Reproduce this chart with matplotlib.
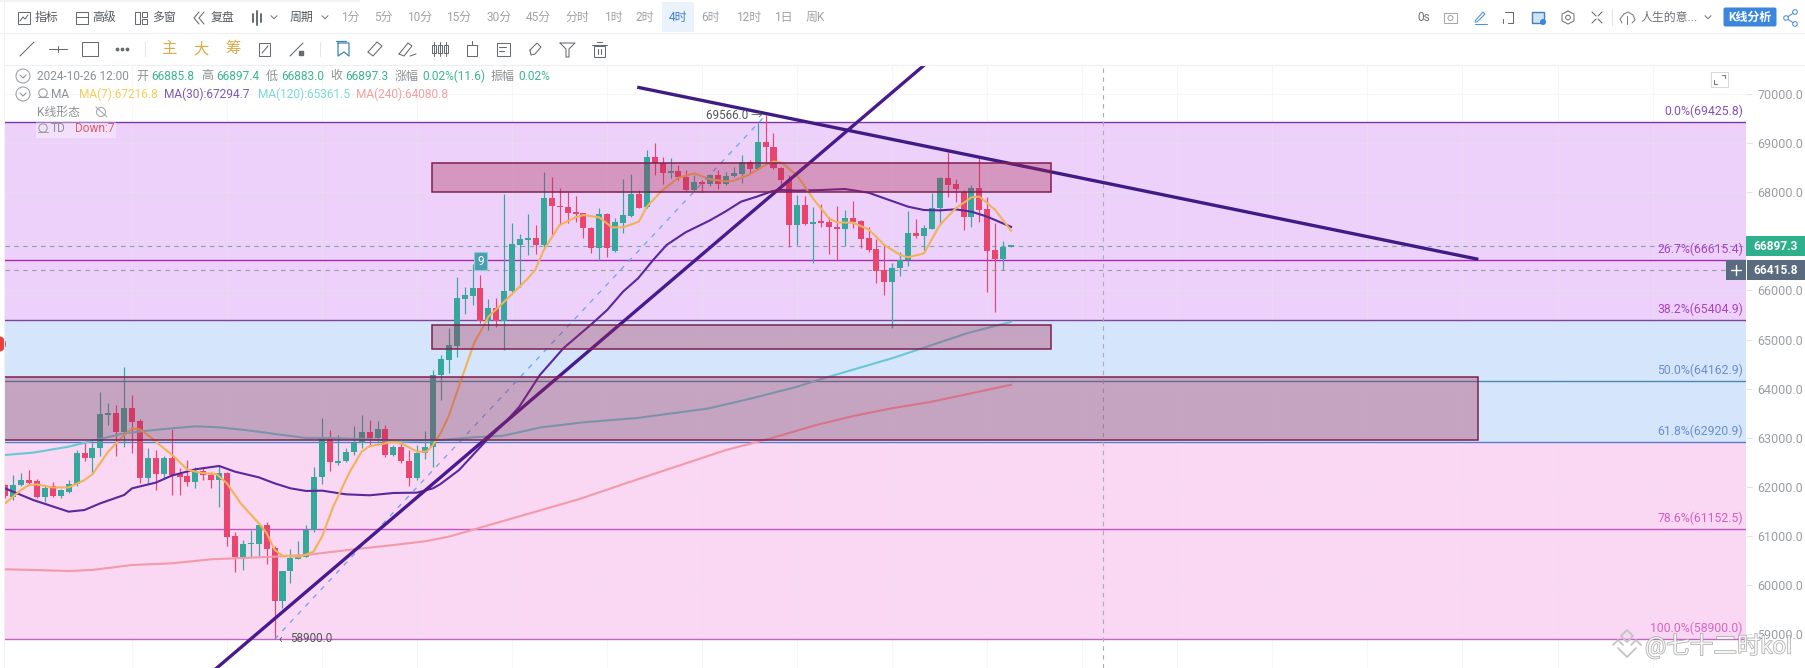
import matplotlib
matplotlib.use("Agg")
import matplotlib.pyplot as plt
import matplotlib.patheffects as pe
from matplotlib.patches import Rectangle, Circle, FancyBboxPatch

#---------------------------------
# Data
#---------------------------------

opens = [62030, 61800, 62030, 62140, 62120, 61800, 62010, 61820, 61900, 62060, 62690, 62580, 62790, 63470, 63500, 63110,
         63600, 63340, 62180, 62580, 62260, 62580, 62260, 62220, 62110, 62330, 62240, 62140, 62280, 61000, 60580, 60830,
         60840, 61230, 60750, 59670, 60280, 60540, 60580, 61120, 62200, 63020, 62490, 62520, 62720, 62890, 63110, 62990,
         63170, 62650, 62820, 62520, 62180, 62700, 62820, 64280, 64590, 64870, 65830, 65890, 66060, 65370, 65640, 65370,
         65980, 66930, 67030, 67060, 66930, 67880, 67710, 67690, 67590, 67570, 67280, 66860, 67550, 66810, 67380, 67520,
         67960, 67690, 68710, 68590, 68400, 68430, 68320, 68050, 68210, 68160, 68360, 68160, 68340, 68380, 68610, 68480,
         69020, 68930, 68490, 68240, 67340, 67750, 67360, 67410, 67390, 67290, 67260, 67470, 67410, 67060, 66840, 66410,
         66180, 66450, 66630, 67180, 67100, 67260, 67670, 68280, 68160, 68010, 67500, 68080, 67650, 66820, 66640, 66885.8]
closes = [61820, 62040, 62140, 62090, 61800, 61970, 61820, 61930, 62050, 62690, 62580, 62790, 63490, 63500, 63110, 63600,
          63330, 62180, 62580, 62260, 62580, 62240, 62210, 62110, 62330, 62240, 62140, 62280, 60990, 60580, 60840, 60850,
          61220, 60740, 59670, 60290, 60550, 60580, 61120, 62200, 63020, 62500, 62520, 62720, 62900, 63110, 62990, 63170,
          62650, 62810, 62520, 62180, 62690, 62820, 64280, 64600, 64890, 65840, 65910, 66060, 65370, 65640, 65370, 65980,
          66940, 67040, 67060, 66930, 67880, 67710, 67690, 67580, 67560, 67280, 66860, 67550, 66860, 67390, 67530, 67960,
          67680, 68720, 68590, 68400, 68430, 68320, 68050, 68210, 68170, 68360, 68160, 68340, 68390, 68610, 68470, 69020,
          68930, 68490, 68240, 67330, 67750, 67350, 67390, 67370, 67290, 67260, 67470, 67400, 67050, 66830, 66400, 66180,
          66450, 66630, 67180, 67100, 67270, 67670, 68280, 68150, 68070, 67500, 68080, 67640, 66810, 66650, 66890, 66897.3]
highs = [62070, 62240, 62290, 62350, 62160, 62020, 62110, 61950, 62140, 62750, 62920, 62890, 63940, 63700, 63670, 64450,
         63870, 63380, 62790, 62750, 62620, 63170, 62380, 62540, 62410, 62410, 62310, 62450, 62310, 61090, 60920, 61120,
         61270, 61290, 60790, 60290, 60730, 60890, 61230, 62410, 63400, 63150, 63060, 62790, 63240, 63470, 63360, 63340,
         63260, 62850, 62900, 62750, 62850, 63130, 64380, 64690, 65230, 66280, 66080, 66540, 66320, 65820, 65840, 67960,
         67370, 67150, 67560, 67330, 68410, 68300, 68080, 68010, 67920, 67580, 67300, 67670, 67570, 67470, 68260, 68370,
         68050, 68870, 69010, 68720, 68690, 68550, 68450, 68350, 68240, 68380, 68450, 68420, 68520, 68760, 68660, 69400,
         69566, 69200, 68520, 68350, 67940, 67920, 67690, 67770, 67500, 67720, 67640, 67830, 67440, 67290, 67040, 66930,
         66550, 66790, 67620, 67460, 67330, 67980, 68300, 68810, 68260, 68050, 68150, 68740, 67900, 67370, 67010, 66897.4]
lows = [61770, 61740, 62010, 62040, 61770, 61700, 61800, 61770, 61880, 62010, 62520, 62280, 62620, 63260, 62620, 62810,
        62700, 62090, 62070, 61940, 62180, 61840, 61840, 62010, 61970, 62140, 61970, 61600, 60800, 60260, 60310, 60580,
        60600, 60430, 58900, 59530, 60050, 60530, 60580, 61090, 62070, 62330, 62450, 62500, 62650, 62790, 62850, 62890,
        62600, 62620, 62480, 62020, 62140, 62570, 62410, 63760, 64310, 64640, 65520, 65700, 65330, 65200, 65260, 64790,
        65940, 66080, 66720, 66740, 66890, 67100, 67330, 67370, 67400, 67060, 66770, 66620, 66690, 66790, 67180, 67500,
        67670, 67670, 68350, 68170, 68280, 68250, 68030, 68030, 68010, 68130, 68070, 68140, 68320, 68180, 68380, 68470,
        68590, 68470, 68150, 66890, 66930, 67330, 66550, 67290, 66740, 66620, 66910, 67270, 66870, 66790, 66160, 65910,
        65230, 66300, 66490, 67060, 66770, 67250, 67330, 67900, 67810, 67230, 67300, 67400, 65960, 65570, 66420, 66883.0]

ma7_idx = [0, 2, 3, 4, 6, 8, 10, 11, 13, 15, 16, 17, 18, 20, 21.3, 23, 24.6, 26.7, 28, 29.7, 32, 33, 34, 35, 37.2, 38.9,
           40, 41.4, 43.5, 45, 46, 47.8, 49, 50, 52, 53.2, 54, 55, 56, 57.7, 59.2, 60.6, 61, 63, 65.8, 66.9, 68, 70, 72,
           73, 75, 76.6, 78, 80, 81, 83, 85, 87, 89, 91, 92, 94, 96, 97, 98, 100, 102, 104, 105, 107, 109, 111, 113, 114,
           116, 118, 120, 122, 123, 125, 127]
ma7_val = [61670, 61940, 62040, 62050, 61990, 61990, 62140, 62260, 62720, 63060, 63190, 63170, 63060, 62790, 62620, 62350,
           62290, 62260, 62070, 61670, 61260, 61060, 60720, 60600, 60580, 60680, 60990, 61600, 62310, 62720, 62830, 62880,
           62920, 62890, 62720, 62720, 62850, 63105, 63450, 64245, 64930, 65338, 65467, 65772, 66213, 66417, 66824, 67333,
           67489, 67536, 67489, 67285, 67285, 67401, 67706, 68045, 68296, 68385, 68263, 68222, 68235, 68364, 68554, 68622,
           68609, 68337, 67870, 67469, 67387, 67380, 67245, 66926, 66722, 66675, 66756, 67333, 67672, 67896, 67910, 67638,
           67217]

ma30_idx = [0, 3.5, 8, 10, 12, 15, 16, 19, 21, 24, 27, 29, 32, 34, 36, 38, 40, 43, 46, 49, 52, 54, 54.9, 57.3, 60.6, 63.2,
            64.9, 67.5, 70.5, 73.9, 76, 78, 79.9, 81.8, 83.5, 85.9, 88.9, 90.9, 92.9, 94.9, 96.9, 98, 100, 103, 106, 109,
            111, 114, 116, 118, 120, 122, 124, 127]
ma30_val = [61970, 61735, 61497, 61531, 61667, 61836, 61972, 62088, 62230, 62359, 62427, 62311, 62196, 62074, 61972, 61918,
            61925, 61850, 61830, 61877, 61884, 61972, 62054, 62345, 62921, 63329, 63634, 64279, 64829, 65297, 65603, 65976,
            66247, 66620, 66926, 67184, 67421, 67604, 67808, 67910, 68025, 68045, 68032, 68045, 68066, 67991, 67876, 67706,
            67638, 67631, 67652, 67604, 67502, 67294.7]

ma120_idx = [0, 3.5, 8, 12, 15, 18, 21, 24, 27, 31, 35, 38, 41, 46, 50, 54.9, 59.7, 62.7, 67.7, 73, 79.8, 88.6, 93.8, 100,
             102.9, 112.2, 121.4, 127]
ma120_val = [62651, 62698, 62820, 62977, 63092, 63146, 63194, 63234, 63214, 63146, 63058, 62997, 62997, 62970, 62922, 62956,
             63017, 63037, 63215, 63316, 63404, 63593, 63785, 64041, 64192, 64631, 65128, 65361.5]

ma240_idx = [0, 3.5, 8, 11, 16, 21, 26, 34, 38, 44, 49, 53, 56, 72.4, 79.6, 85.3, 91, 96.7, 102.4, 107.1, 111.9, 116.6,
             121.4, 127]
ma240_val = [60323, 60310, 60289, 60310, 60411, 60445, 60527, 60581, 60615, 60730, 60818, 60893, 60988, 61749, 62142, 62447,
             62752, 62991, 63261, 63445, 63601, 63724, 63886, 64080.8]

fib_pcts = ["0.0%", "26.7%", "38.2%", "50.0%", "61.8%", "78.6%", "100.0%"]
fib_prices = [69425.8, 66615.4, 65404.9, 64162.9, 62920.9, 61152.5, 58900.0]
fib_line_colors = ["#7B35A5", "#A52BB5", "#85409F", "#4A88B0", "#5A7CCB", "#BF55C0", "#C462C4"]
fib_text_colors = ["#8A4FB5", "#A845BE", "#A845BE", "#6A8FCB", "#6A8FCB", "#D060BE", "#D868C0"]

# rectangles the user drew: left bar, right bar, top price, bottom price
zone_left = [53.9, 53.9, -1]
zone_right = [132.0, 132.0, 185.9]
zone_top = [68589, 65291, 64233]
zone_bottom = [67999, 64815, 62950]

trend_a_idx = [26.7, 115.9]
trend_a_val = [58314, 70570]
trend_b_idx = [80, 185.8]
trend_b_val = [70132, 66641]
fib_link_idx = [34, 96]
fib_link_val = [58900, 69566]

price_ticks = [70000, 69000, 68000, 67000, 66000, 65000, 64000, 63000, 62000, 61000, 60000, 59000]
grid_idx = [16, 28, 40, 52, 64, 76, 88, 100, 112, 124, 136, 148, 160, 172, 184, 196, 208]
last_price = 66897.3
cross_price = 66415.8
cross_idx = 138.6

period_labels = ["1分", "5分", "10分", "15分", "30分", "45分", "分时", "1时", "2时", "4时", "6时", "12时", "1日", "周K"]
period_x = [350, 383, 420, 459, 499, 538, 577, 613, 645, 678, 711, 749, 783, 815]

#---------------------------------
# Figure setup
#---------------------------------

plt.rcParams["font.family"] = ["Roboto", "Noto Sans CJK SC", "DejaVu Sans"]

W, H = 1806, 668
UP = "#36A89B"
DOWN = "#E8456F"
GRAY = "#8C9196"
ICON = "#666B70"

fig = plt.figure(figsize=(W / 100, H / 100), dpi=100, facecolor="white")
ax = fig.add_axes([5 / W, 0, (1746 - 5) / W, (668 - 66) / H])
ax.set_xlim(-0.04, 219.8)
ax.set_ylim(58314, 70570)
for s in ax.spines.values():
    s.set_visible(False)

# the 67000 label sits under the last price tag, so it stays blank
ax.set_yticks(price_ticks)
ax.set_yticklabels(["" if p == 67000 else f"{p:.1f}" for p in price_ticks], color="#9A9EA3", fontsize=9)
ax.yaxis.tick_right()
ax.tick_params(axis="y", length=4, color="#E4E4E4", pad=4, width=0.8)
ax.set_xticks(grid_idx)
ax.set_xticklabels([])
ax.tick_params(axis="x", length=0)
ax.grid(True, color="#E6E6EE", alpha=0.35, lw=0.8)
ax.set_axisbelow(True)

#---------------------------------
# Fibonacci bands
#---------------------------------

ax.axhspan(fib_prices[2], fib_prices[0], color="#EDD1FA", lw=0, zorder=0.3)
ax.axhspan(fib_prices[4], fib_prices[2], color="#D5E5FC", lw=0, zorder=0.3)
ax.axhspan(fib_prices[6], fib_prices[4], color="#FAD7F3", lw=0, zorder=0.3)

for pct, price, lc, tc in zip(fib_pcts, fib_prices, fib_line_colors, fib_text_colors):
    ax.axhline(price, color=lc, lw=1.0, zorder=1)
    ax.annotate(f"{pct}({price:.1f})", (219.8, price), xytext=(-3, 4), textcoords="offset pixels",
                ha="right", va="bottom", color=tc, fontsize=8.8, zorder=6)

#---------------------------------
# Candles and moving averages
#---------------------------------

idx = list(range(len(opens)))
colors = [UP if c >= o else DOWN for o, c in zip(opens, closes)]
ax.vlines(idx, lows, highs, colors=colors, lw=0.85, zorder=2)
ax.bar(idx, [max(abs(c - o), 30) for o, c in zip(opens, closes)],
       bottom=[min(o, c) for o, c in zip(opens, closes)], width=0.76, color=colors, zorder=2)

ax.plot(ma240_idx, ma240_val, color="#F29AA8", lw=1.5, zorder=3)
ax.plot(ma120_idx, ma120_val, color="#68C8D6", lw=1.5, zorder=3)
ax.plot(ma30_idx, ma30_val, color="#5A279C", lw=1.5, zorder=3)
ax.plot(ma7_idx, ma7_val, color="#F0B35A", lw=1.5, zorder=3)

# current price and crosshair
ax.axhline(last_price, color="#7FA6A8", lw=0.8, dashes=(4, 4), zorder=1.5)
ax.axhline(cross_price, color="#9A9AA8", lw=0.8, dashes=(4, 4), zorder=1.5)
ax.axvline(cross_idx, color="#ABABB6", lw=0.8, dashes=(4, 4), zorder=1.5)

# drawn objects
ax.plot(fib_link_idx, fib_link_val, color="#6AA5E8", lw=0.9, dashes=(4, 5), zorder=3)
ax.plot(trend_a_idx, trend_a_val, color="#481A8E", lw=2.4, zorder=4)
ax.plot(trend_b_idx, trend_b_val, color="#3F1B85", lw=2.4, zorder=4)

for l, r, t, b in zip(zone_left, zone_right, zone_top, zone_bottom):
    ax.add_patch(Rectangle((l, b), r - l, t - b, facecolor=(0.66, 0.16, 0.32, 0.34),
                           edgecolor="#7E1F4F", lw=1.1, zorder=5))

ax.text(95.6, 69566, "69566.0 →", ha="right", va="center", color="#555555", fontsize=8.4, zorder=6)
ax.text(34.5, 58900, "‹", ha="left", va="center", color="#555555", fontsize=8.4, zorder=6)
ax.text(36, 58920, "58900.0", ha="left", va="center", color="#555555", fontsize=8.4, zorder=6)
ax.text(60, 66600, "9", ha="center", va="center", color="white", fontsize=8.5, zorder=6,
        bbox=dict(boxstyle="square,pad=0.25", fc="#4A9FB0", ec="#8FC9D2", lw=0.8))

#---------------------------------
# Toolbar and legend overlay, drawn in pixels
#---------------------------------

ui = fig.add_axes([0, 0, 1, 1], facecolor="none", zorder=5)
ui.set_xlim(0, W)
ui.set_ylim(H, 0)
ui.axis("off")


def label(x, y, s, color=GRAY, ha="left", size=8.6, **kw):
    ui.text(x, y, s, color=color, ha=ha, va="center", fontsize=size, **kw)


def line(xs, ys, color=ICON, lw=0.75):
    ui.plot(xs, ys, color=color, lw=lw, solid_capstyle="round")


def box(x0, y0, x1, y1, color=ICON, lw=0.75, fc="none"):
    ui.add_patch(Rectangle((x0, y0), x1 - x0, y1 - y0, ec=color, fc=fc, lw=lw))


def chevron(x, y, color="#777777"):
    line([x - 3, x, x + 3], [y - 2, y + 1, y - 2], color)


line([0, W], [32.7, 32.7], "#EFEFEF", 0.8)
line([5, W], [65, 65], "#EFEFEF", 0.8)
line([4.5, 4.5], [0, H], "#F0F0F0", 0.8)
ui.add_patch(Rectangle((0, 0), 360, 2, fc="#F3F3F3", ec="none"))

# first row
R1 = 17.7
box(18, 12, 30, 24)
line([20, 23, 25, 28], [21, 17, 19, 15])
label(35, R1, "指标", "#555B61")
box(76, 12, 88, 24)
line([76, 88], [17, 17])
label(92, R1, "高级", "#555B61")
box(135, 12, 140, 24)
box(142, 12, 147, 17)
box(142, 19, 147, 24)
label(152, R1, "多窗", "#555B61")
line([199, 194, 199], [12, 18, 24])
line([204, 199, 204], [12, 18, 24])
label(211, R1, "复盘", "#555B61")
for cx, top, bot in [(253, 14, 22), (257, 11, 25), (261, 14, 22)]:
    line([cx, cx], [top, bot], ICON, 1.4)
chevron(274, R1)
label(290, R1, "周期", "#555B61")
chevron(325, R1)
ui.add_patch(Rectangle((662, 2), 32, 30, fc="#EAF2FB", ec="none"))
for s, x in zip(period_labels, period_x):
    label(x, R1, s, "#3F7FD0" if s == "4时" else "#9EA3A8", ha="center")

label(1417, R1, "0s", "#6E7378")
box(1444, 13, 1457, 23, "#A5A9AD")
ui.add_patch(Circle((1450.5, 18), 2.5, ec="#A5A9AD", fc="none", lw=0.75))
line([1475, 1483, 1485, 1477, 1475], [21, 12, 14, 22, 22], "#4A8FD8")
line([1475, 1487], [24, 24], "#4A8FD8")
line([1505, 1513, 1513, 1508], [12, 12, 23, 23])
line([1503, 1503], [19, 23])
box(1532, 12, 1544, 23, "#3E7FC8", 1.0, "#CFE2F7")
ui.add_patch(Circle((1543, 22), 3, ec="none", fc="#3C87DE"))
line([1568, 1574, 1574, 1568, 1562, 1562, 1568], [11, 14, 21, 24, 21, 14, 11], "#777777")
ui.add_patch(Circle((1568, 17.5), 2.3, ec="#777777", fc="none", lw=0.75))
line([1592, 1596], [12, 16], "#666666")
line([1598, 1602], [16, 12], "#666666")
line([1592, 1596], [23, 19], "#666666")
line([1598, 1602], [19, 23], "#666666")
line([1612, 1612], [9, 25], "#E2E2E2")
line([1622, 1620, 1624, 1628, 1633, 1635, 1632], [23, 19, 14, 12, 15, 20, 23], "#7A7F84")
line([1627, 1627], [24, 16], "#7A7F84")
label(1640, R1, "人生的意...", "#6E7378")
chevron(1708, R1)
ui.add_patch(FancyBboxPatch((1724, 8), 52, 18, boxstyle="round,pad=0.5,rounding_size=2", fc="#3C87DE", ec="none"))
label(1750, R1, "K线分析", "white", ha="center", fontweight="bold")
line([1786, 1795], [18, 12], "#4A8FD8")
line([1786, 1795], [18, 24], "#4A8FD8")
for sx, sy in [(1786, 18), (1795, 12), (1795, 24)]:
    ui.add_patch(Circle((sx, sy), 2.3, ec="#4A8FD8", fc="white", lw=0.75, zorder=3))

# second row
R2 = 49
line([20, 34], [56, 42])
line([49, 67], [49, 49])
line([58, 58], [46, 52])
box(82, 42, 98, 56)
ui.scatter([117, 122, 127], [49, 49, 49], s=3, color=ICON)
line([145, 145], [42, 56], "#E6E6E6")
for x, s in zip([161, 193, 225], ["主", "大", "筹"]):
    label(x, R2, s, "#DDAA45", size=11)
box(259, 43, 270, 56)
line([262, 268], [53, 46])
line([290, 303], [56, 43])
ui.scatter([301], [53], s=10, color=ICON, marker="s")
line([320, 320], [42, 56], "#E6E6E6")
line([338, 338, 344, 349, 349, 338], [43, 56, 52, 56, 43, 43], "#3E86B8", 0.9)
line([336, 346], [41, 41], "#3E86B8", 0.9)
line([368, 377, 382, 373, 368], [52, 42, 46, 56, 52])
line([399, 408, 412, 404, 399], [54, 43, 46, 56, 54])
line([410, 416], [56, 54])
for cx in [434, 440, 446]:
    line([cx, cx], [42, 56])
    box(cx - 2, 45, cx + 2, 53)
box(467, 45, 477, 56)
line([472, 472], [41, 45])
box(497, 43, 510, 56)
line([499, 506], [47, 47])
line([499, 504], [51, 51])
line([530, 537, 541, 535, 531, 530], [50, 43, 47, 54, 55, 50])
line([560, 575, 569, 569, 566, 566, 560], [43, 43, 49, 57, 57, 49, 43])
box(594, 46, 605, 57)
line([592, 607], [45, 45])
line([597, 602], [42, 42])
line([598, 598], [49, 54])
line([601, 601], [49, 54])

# legend rows
R3 = 76
for cy in [R3, 94]:
    ui.add_patch(Circle((23, cy), 7, ec="#9A9EA3", fc="white", lw=0.75))
    chevron(23, cy + 1, "#8C9196")
GREEN_TXT = "#3DB68F"
for x, s, c in [(37, "2024-10-26 12:00", GRAY), (136, "开", GRAY), (151, "66885.8", GREEN_TXT), (201, "高", GRAY),
                (216, "66897.4", GREEN_TXT), (266, "低", GRAY), (281, "66883.0", GREEN_TXT), (330, "收", GRAY),
                (345, "66897.3", GREEN_TXT), (395, "涨幅", GRAY), (422, "0.02%(11.6)", GREEN_TXT), (491, "振幅", GRAY),
                (518, "0.02%", GREEN_TXT)]:
    label(x, R3, s, c)

ui.add_patch(Rectangle((36, 122), 80, 16, fc="white", alpha=0.35, ec="none"))
for cy in [94, 129]:
    ui.add_patch(Circle((43, cy - 1), 4.2, ec="#9A9EA3", fc="none", lw=0.75))
    line([38, 48], [cy + 3, cy + 3], "#9A9EA3")
label(51, 94, "MA", GRAY)
label(79, 94, "MA(7):67216.8", "#F3CF58")
label(164, 94, "MA(30):67294.7", "#7C5BB0")
label(258, 94, "MA(120):65361.5", "#7ADAD6")
label(356, 94, "MA(240):64080.8", "#F2A0A0")
label(37, 112, "K线形态", GRAY)
ui.add_patch(Circle((101, 112), 4.5, ec="#A0A4A8", fc="none", lw=0.75))
line([96, 107], [107, 117], "#A0A4A8")
label(51, 129, "TD", GRAY)
label(75, 129, "Down:7", "#E05A6A")

# expand button
box(1711, 72, 1728, 87, "#D8D8D8")
line([1722, 1725, 1725], [75, 75, 78], "#777777")
line([1714, 1714, 1717], [80, 84, 84], "#777777")

# price tags
ui.add_patch(Rectangle((1746, 236), 60, 20, fc="#2EB08D", ec="none"))
label(1776, 246, f"{last_price:.1f}", "white", ha="center", fontweight="bold")
ui.add_patch(Rectangle((1726, 260), 20, 20, fc="#5A6B80", ec="none"))
line([1731, 1741], [270, 270], "white", 1.0)
line([1736, 1736], [265, 275], "white", 1.0)
ui.add_patch(Rectangle((1747, 260), 59, 20, fc="#5A6B80", ec="none"))
label(1776, 270, f"{cross_price:.1f}", "white", ha="center", fontweight="bold")

# red dot on the left edge
ui.add_patch(Circle((-2, 344), 8, fc="#E8403A", ec="none"))

# watermark
halo = [pe.withStroke(linewidth=1.0, foreground="#9A9A9A")]
ui.text(1645, 646, "@七十二时kol", color="white", alpha=0.85, fontsize=17, va="center", ha="left",
        path_effects=halo)
wm = "#C4C4C4"
line([1621, 1627, 1633, 1627, 1621], [636, 630, 636, 642, 636], wm, 1.3)
line([1613, 1618, 1623], [645, 640, 645], wm, 1.3)
line([1631, 1636, 1641], [645, 640, 645], wm, 1.3)
line([1618, 1627, 1636], [648, 657, 648], wm, 1.3)

fig.savefig("out.png", dpi=100, facecolor="white")
